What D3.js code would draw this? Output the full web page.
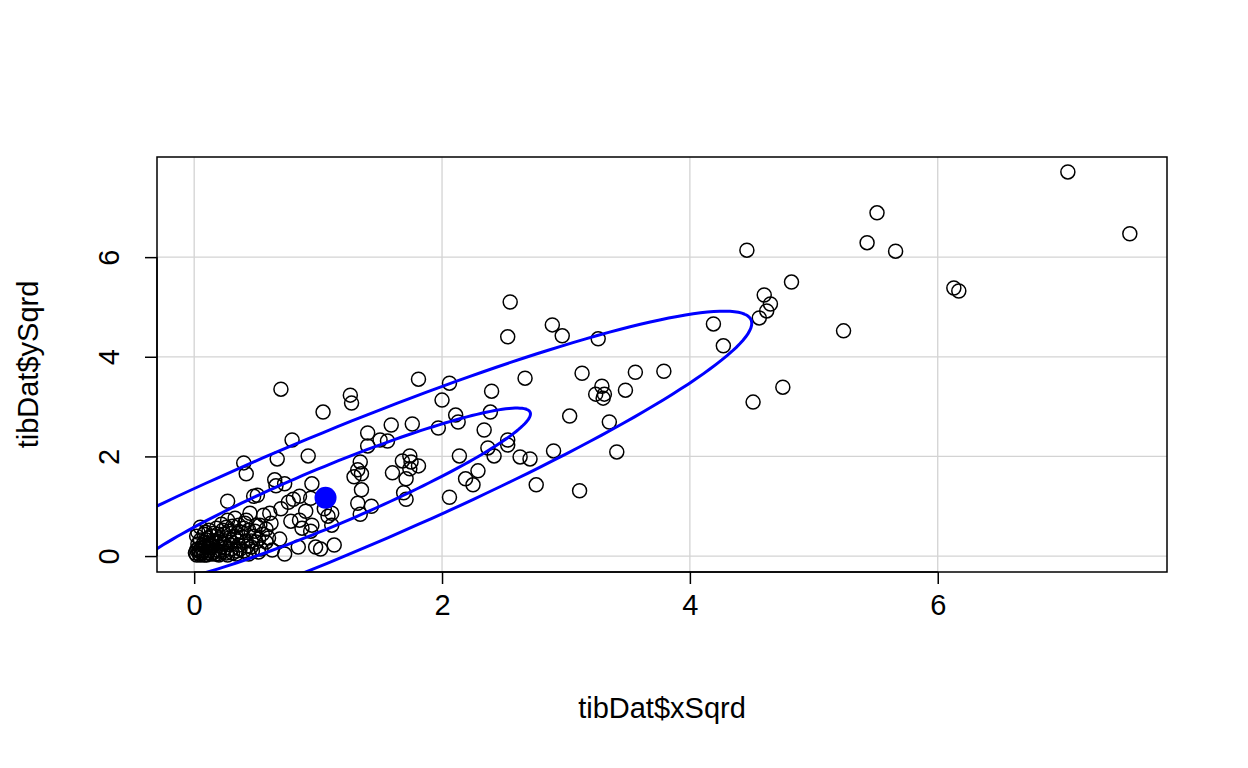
<!DOCTYPE html>
<html><head><meta charset="utf-8">
<script src="https://cdn.jsdelivr.net/npm/d3@7"></script>
<style>body{margin:0;background:#fff}text{font-family:"Liberation Sans",Arial,sans-serif}</style>
</head><body><svg id="chart" width="1248" height="768"></svg>
<script>
// points [xSqrd, ySqrd]
var ptsOuter = [[7.05,7.71],[7.55,6.47],[5.51,6.89],[5.43,6.29],[5.66,6.12],[4.46,6.14],[6.13,5.38],[6.17,5.32],
  [4.82,5.50],[4.60,5.24],[4.65,5.06],[4.62,4.92],[4.56,4.78],[5.24,4.52],[4.19,4.66],[4.27,4.22],[4.75,3.39],[4.51,3.09]];
var ptsMid = [[2.55,5.10],[2.89,4.64],[2.97,4.42],[2.53,4.40],[3.26,4.36],[3.79,3.71],[3.56,3.69],[3.13,3.67],
  [3.29,3.41],[3.24,3.25],[3.31,3.25],[3.30,3.17],[3.48,3.33],[3.35,2.69],[3.03,2.81],[3.41,2.09],[2.90,2.11],
  [3.11,1.31],[2.76,1.43],[2.67,3.57],[2.40,3.31],[2.39,2.89],[2.34,2.53],[2.53,2.33],[2.53,2.23],[2.42,2.01],
  [2.63,1.99],[2.71,1.95],[2.37,2.17],[2.29,1.71],[2.25,1.43],[2.19,1.55],[2.06,1.18],[2.14,2.01],[2.11,2.83],
  [2.13,2.69],[2.06,3.47],[2.00,3.13],[1.97,2.57],[1.81,3.55],[1.76,2.65],[1.59,2.63],[1.74,2.01],[1.75,1.89],
  [1.68,1.91],[1.81,1.81],[1.74,1.75],[1.60,1.67],[1.71,1.55],[1.69,1.27],[1.71,1.14],[1.40,2.47],[1.40,2.21],
  [1.50,2.33],[1.56,2.31],[1.26,3.23],[1.27,3.07],[1.04,2.89],[0.70,3.35],[0.79,2.33],[0.40,1.87],[0.42,1.65],
  [0.67,1.95],[0.92,2.01],[1.34,1.89],[1.32,1.73],[1.29,1.59],[1.35,1.65],[1.35,1.33],[1.32,1.06],[1.43,1.00],
  [1.34,0.84],[1.11,0.86],[1.11,0.62],[1.13,0.22],[1.02,0.14],[0.98,0.18],[0.94,1.16],[0.95,1.45],[0.85,1.20],
  [0.80,1.14],[0.76,1.08],[0.73,1.45],[0.66,1.41],[0.65,1.53],[0.85,0.72],[0.87,0.56],[0.94,0.50],[0.84,0.18],
  [0.73,0.04],[0.51,1.22],[0.48,1.20],[0.27,1.10],[0.61,0.86],[0.56,0.82],[0.53,0.62],[1.05,0.95],[1.08,0.80],
  [0.90,0.90],[0.70,0.95],[0.78,0.70],[0.62,0.66],[0.69,0.34],[0.58,0.28],[0.63,0.12],[0.52,0.08],[0.95,0.62]];
var ptsCluster = [[0.45,0.86],[0.42,0.72],[0.36,0.62],[0.33,0.76],[0.27,0.72],[0.22,0.64],[0.18,0.56],[0.12,0.52],
  [0.05,0.58],[0.02,0.40],[0.03,0.24],[0.02,0.12],[0.04,0.04],[0.08,0.02],[0.12,0.10],[0.15,0.20],[0.10,0.32],
  [0.20,0.34],[0.24,0.44],[0.28,0.50],[0.32,0.40],[0.38,0.48],[0.44,0.52],[0.48,0.40],[0.42,0.30],[0.36,0.22],
  [0.30,0.14],[0.26,0.06],[0.20,0.02],[0.16,0.08],[0.22,0.18],[0.18,0.26],[0.06,0.16],[0.08,0.28],[0.14,0.40],
  [0.10,0.02],[0.02,0.02],[0.06,0.06],[0.14,0.04],[0.34,0.04],[0.40,0.10],[0.46,0.18],[0.50,0.28],[0.55,0.44],
  [0.58,0.54],[0.50,0.62],[0.40,0.56],[0.30,0.28],[0.24,0.24],[0.28,0.36],[0.12,0.16],[0.04,0.10],[0.16,0.46],
  [0.26,0.58],[0.34,0.10],[0.44,0.04],[0.54,0.14],[0.60,0.36],[0.20,0.10],[0.08,0.44],
  [0.01,0.06],[0.03,0.14],[0.05,0.02],[0.07,0.10],[0.09,0.18],[0.11,0.06],[0.13,0.24],[0.17,0.12],[0.19,0.04],
  [0.21,0.28],[0.23,0.08],[0.25,0.16],[0.29,0.22],[0.31,0.06],[0.35,0.30],[0.37,0.14],[0.39,0.38],[0.43,0.20],
  [0.47,0.10],[0.49,0.50],[0.52,0.34],[0.05,0.32],[0.09,0.48],[0.15,0.30],[0.19,0.44],[0.23,0.52],[0.31,0.60],
  [0.35,0.46],[0.41,0.66],[0.46,0.30],[0.03,0.48],[0.07,0.22],[0.11,0.36],[0.17,0.04],[0.27,0.02]];
var centre = [1.06, 1.17];
// ellipse shape: sd x, sd y, correlation, radii (50% and 95%)
var ellSd = [1.405, 1.53], ellRho = 0.935, ellRadii = [1.177, 2.448];
var xTicks = [0, 2, 4, 6], yTicks = [0, 2, 4, 6];

var svg = d3.select("#chart");
var L = 157, R = 1167, T = 157, B = 572;
var x = d3.scaleLinear().domain([-0.3, 7.85]).range([L, R]);
var y = d3.scaleLinear().domain([-0.32, 8.01]).range([B, T]);

svg.append("clipPath").attr("id", "clip").append("rect")
  .attr("x", L).attr("y", T).attr("width", R - L).attr("height", B - T);

var grid = svg.append("g").attr("stroke", "#d3d3d3").attr("stroke-width", 1.3);
xTicks.forEach(function(t) { grid.append("line").attr("x1", x(t)).attr("x2", x(t)).attr("y1", T).attr("y2", B); });
yTicks.forEach(function(t) { grid.append("line").attr("y1", y(t)).attr("y2", y(t)).attr("x1", L).attr("x2", R); });

var all = ptsOuter.concat(ptsMid, ptsCluster);
svg.append("g").selectAll("circle").data(all).join("circle")
  .attr("cx", d => x(d[0])).attr("cy", d => y(d[1])).attr("r", 7)
  .attr("fill", "none").attr("stroke", "#000").attr("stroke-width", 1.5);

// ellipse outlines
var angles = d3.range(0, 361, 2).map(a => a * Math.PI / 180);
var a1 = Math.sqrt((1 + ellRho) / 2), a2 = Math.sqrt((1 - ellRho) / 2);
var line = d3.line().x(d => x(d[0])).y(d => y(d[1]));
ellRadii.forEach(function(r) {
  var pts = angles.map(function(t) {
    var u = Math.cos(t) * a1 + Math.sin(t) * a2;
    var v = Math.cos(t) * a1 - Math.sin(t) * a2;
    return [centre[0] + r * ellSd[0] * u, centre[1] + r * ellSd[1] * v];
  });
  svg.append("path").attr("d", line(pts)).attr("clip-path", "url(#clip)")
    .attr("fill", "none").attr("stroke", "#0000ff").attr("stroke-width", 3);
});
svg.append("circle").attr("cx", x(centre[0])).attr("cy", y(centre[1])).attr("r", 11).attr("fill", "#0000ff");

svg.append("rect").attr("x", L).attr("y", T).attr("width", R - L).attr("height", B - T)
  .attr("fill", "none").attr("stroke", "#000").attr("stroke-width", 1.5);

var fs = 29;
var xa = svg.append("g").attr("transform", "translate(0," + B + ")")
  .call(d3.axisBottom(x).tickValues(xTicks).tickSize(12).tickPadding(10).tickFormat(d3.format("d")));
var ya = svg.append("g").attr("transform", "translate(" + L + ",0)")
  .call(d3.axisLeft(y).tickValues(yTicks).tickSize(12).tickPadding(14).tickFormat(d3.format("d")));
[xa, ya].forEach(function(g) {
  g.select(".domain").remove();
  g.selectAll("line").attr("stroke-width", 1.5);
  g.selectAll("text").attr("font-size", fs).attr("font-family", "Liberation Sans, Arial, sans-serif");
});
xa.append("line").attr("x1", x(0)).attr("x2", x(6)).attr("stroke", "#000").attr("stroke-width", 1.5);
ya.append("line").attr("y1", y(0)).attr("y2", y(6)).attr("stroke", "#000").attr("stroke-width", 1.5);
ya.selectAll(".tick text").attr("transform", "rotate(-90)")
  .attr("text-anchor", "middle").attr("x", 0).attr("y", -48).attr("dy", "0.35em");

svg.append("text").attr("x", (L + R) / 2).attr("y", 718).attr("text-anchor", "middle")
  .attr("font-size", fs).text("tibDat$xSqrd");
svg.append("text").attr("transform", "translate(38," + (T + B) / 2 + ") rotate(-90)")
  .attr("text-anchor", "middle").attr("font-size", fs).text("tibDat$ySqrd");
</script></body></html>
